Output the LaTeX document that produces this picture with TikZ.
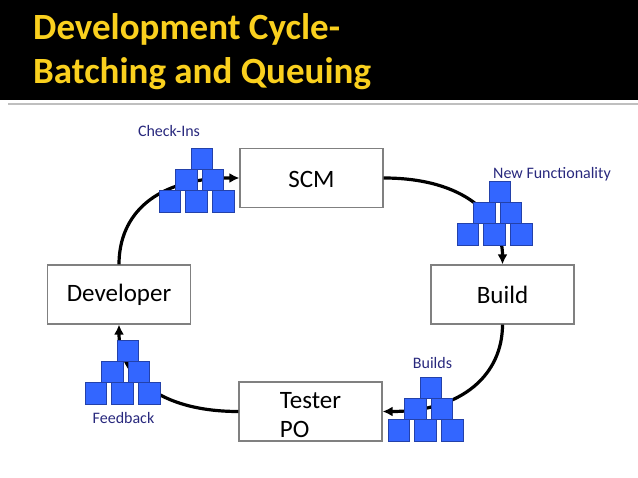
\documentclass[tikz,border=0pt]{standalone}
\usepackage{fontspec}
\setmainfont{Carlito}
\usetikzlibrary{arrows.meta,positioning}

\definecolor{titleyellow}{RGB}{250,208,30}
\definecolor{blockblue}{RGB}{51,102,255}
\definecolor{blockedge}{RGB}{35,65,170}
\definecolor{labelnavy}{RGB}{40,40,125}

% six blocks piled up, #1 = lower left corner of the bottom row
\newcommand{\blockstack}[1]{%
  \begin{scope}[shift={#1}]
    \foreach \dx in {0,26.7,53.4} \draw[block] (\dx,0) rectangle ++(21.5,-21.3);
    \foreach \dx in {16.5,42.8} \draw[block] (\dx,-21.3) rectangle ++(21.5,-21.3);
    \draw[block] (32,-42.6) rectangle ++(21.5,-21.3);
  \end{scope}}

\begin{document}
\begin{tikzpicture}[x=1pt, y=-1pt,
    stage/.style={rectangle, draw=black!50, line width=1.2pt, fill=white, minimum width=143pt, minimum height=59pt, inner sep=2pt, align=left, font=\fontsize{25}{29}\selectfont},
    tag/.style={text=labelnavy, font=\fontsize{16}{19}\selectfont, inner sep=0pt, anchor=base},
    flow/.style={-{Latex[length=10pt,width=10pt]}, line width=3.2pt},
    block/.style={fill=blockblue, draw=blockedge, line width=0.6pt}]
    \useasboundingbox (0,0) rectangle (638,478);

    % Title
    \fill[black] (0,0) rectangle (638,100);
    \draw[black!25, line width=2pt] (8,104) -- (638,104);
    \node (titleA) [anchor=base west, inner sep=0pt, text=titleyellow, font=\fontsize{37}{44}\bfseries\selectfont] at (33,40) {Development Cycle-};
    \node (titleB) [anchor=base west, inner sep=0pt, text=titleyellow, font=\fontsize{37}{44}\bfseries\selectfont] at (33,84) {Batching and Queuing};

    % Nodes
    \node (scm) [stage] at (311.5,178) {\rule{0pt}{20pt}SCM};
    \node (build) [stage] at (502.5,294.5) {Build};
    \node (developer) [stage] at (119,294.5) {Developer};
    \node (tester) [stage] at (310.5,411.5) {\rule{0pt}{23pt}Tester\\PO};

    % Arrows
    \draw[flow] (developer.north) .. controls +(0,-50) and +(-84,0) .. (scm.west);
    \draw[flow] (scm.east) .. controls +(81,0) and +(0,-48) .. (build.north);
    \draw[flow] (build.south) .. controls +(0,49) and +(81,0) .. (tester.east);
    \draw[flow] (tester.west) .. controls +(-81,0) and +(0,49) .. (developer.south);

    % Batches on the way
    \blockstack{(159,212)}
    \blockstack{(457,245)}
    \blockstack{(388,441)}
    \blockstack{(85,404)}

    % Labels
    \node (checkins) [tag] at (169,137) {Check-Ins};
    \node (newfunc) [tag] at (552,179) {New Functionality};
    \node (builds) [tag] at (432.5,369) {Builds};
    \node (feedback) [tag] at (123.5,424) {Feedback};
\end{tikzpicture}
\end{document}
